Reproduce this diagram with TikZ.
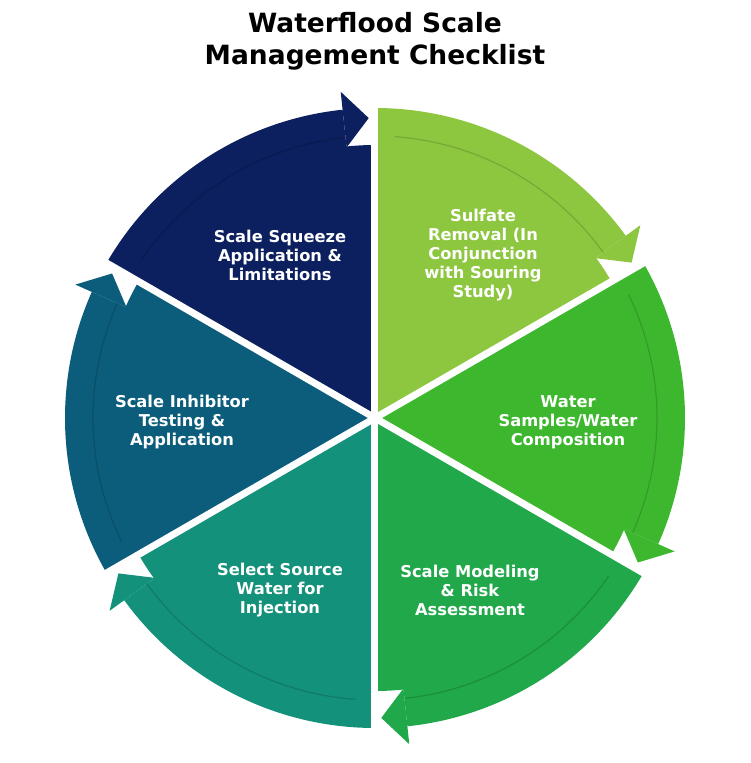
\documentclass[tikz,border=0pt]{standalone}
\usepackage{fontspec}
\setmainfont{DejaVu Sans}
\begin{document}
\begin{tikzpicture}[x=1pt,y=1pt,
  lbl/.style={text=white,font=\bfseries\fontsize{16.3}{19}\selectfont,align=center},
  ttl/.style={font=\bfseries\fontsize{26.5}{32}\selectfont,align=center}]
\definecolor{cA}{HTML}{0C1F5E}
\definecolor{cB}{HTML}{8DC63F}
\definecolor{cC}{HTML}{3DB82E}
\definecolor{cD}{HTML}{20A84A}
\definecolor{cE}{HTML}{13917A}
\definecolor{cF}{HTML}{0B5D7B}
\useasboundingbox (-375,-345) rectangle (375,418);
\foreach \s/\c in {150/cA,90/cB,30/cC,-30/cD,-90/cE,-150/cF}{
  \pgfmathsetmacro{\e}{\s-60}
  \pgfmathsetmacro{\ea}{\e+6}
  \pgfmathsetmacro{\eb}{\e+1.2}
  \fill[\c] (0,0) -- (\s:310) arc[start angle=\s,end angle=\ea,radius=310]
     -- (\ea:273) arc[start angle=\ea,end angle=\e,radius=273] -- cycle;
  \fill[\c] (\ea:328) -- (\eb:300) -- (\ea:272) -- cycle;
  \draw[black,opacity=0.15,line width=1.2] (\s-4:282) arc[start angle=\s-4,end angle=\ea,radius=282];
}
\foreach \a in {90,30,-30,-90,-150,150}{
  \draw[white,line width=7] (0,0) -- (\a:345);
}
\node[ttl] (t) at (0,377) {Waterflood Scale\\Management Checklist};
\node[lbl] (a) at (-95,163) {Scale Squeeze\\Application \&\\Limitations};
\node[lbl] (b) at (108,163) {Sulfate\\Removal (In\\Conjunction\\with Souring\\Study)};
\node[lbl] (c) at (193,-4) {Water\\Samples/Water\\Composition};
\node[lbl] (d) at (95,-172) {Scale Modeling\\\& Risk\\Assessment};
\node[lbl] (e) at (-95,-172) {Select Source\\Water for\\Injection};
\node[lbl] (f) at (-193,-4) {Scale Inhibitor\\Testing \&\\Application};
\end{tikzpicture}
\end{document}
